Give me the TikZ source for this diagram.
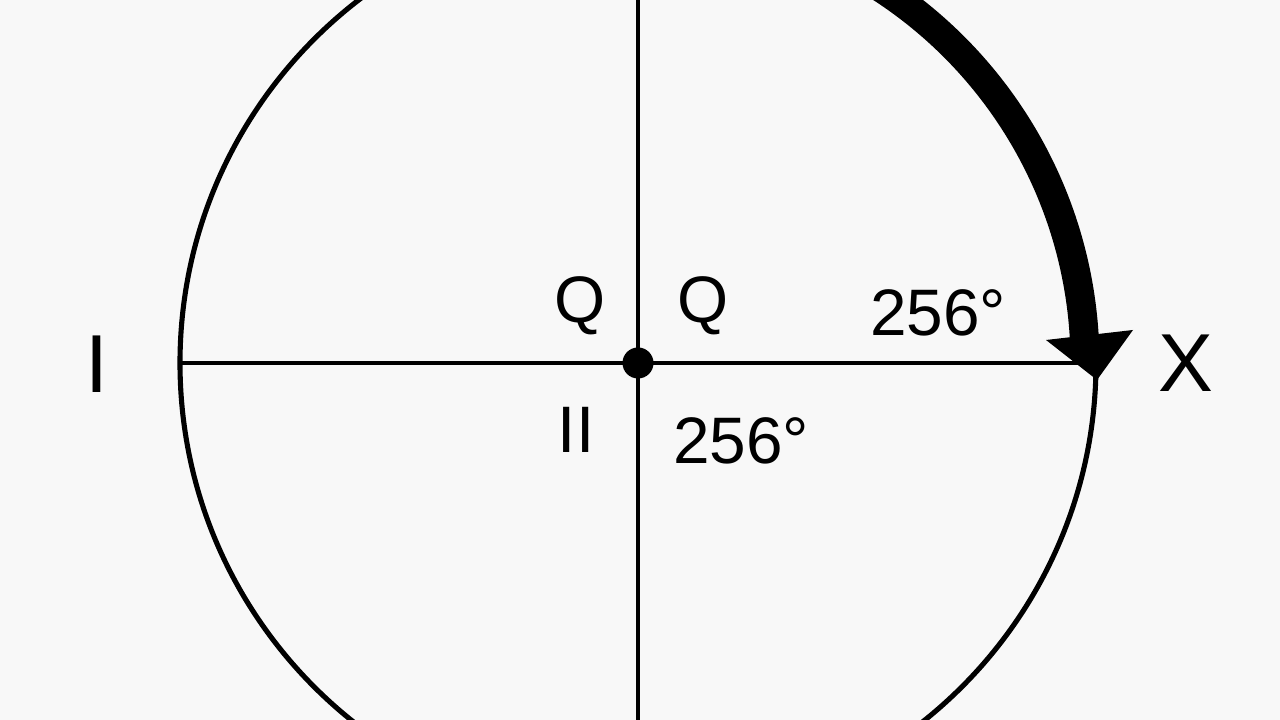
\documentclass[tikz,border=0pt]{standalone}
\usepackage{fontspec}
\setmainfont{Liberation Sans}
\definecolor{paper}{RGB}{248,248,248}
\begin{document}
\begin{tikzpicture}[>=stealth, lbl/.style={inner sep=0pt, font=\fontsize{18.7}{20}\selectfont}]
      \useasboundingbox (-6.38, -3.57) rectangle (6.42, 3.63);
      \fill[paper] (-6.38, -3.57) rectangle (6.42, 3.63);
      \clip (-6.38, -3.57) rectangle (6.42, 3.63);

      \coordinate (O) at (0, 0);
      \coordinate (W) at (180:4.58);
      \coordinate (E) at (0:4.58);
      \coordinate (N) at (0, 3.63);
      \coordinate (S) at (0, -3.57);

      \draw[line width=1.45pt] (O) circle (4.58);
      \draw[line width=1.15pt] (W) -- (E);
      \draw[line width=1.15pt] (N) -- (S);
      \fill (O) circle (0.155);

      % thick arrow along the rim
      \draw[line width=0.29cm] (72:4.47) arc (72:2:4.47);
      \fill (4.08, 0.23) -- (4.95, 0.33) -- (4.59, -0.17) -- cycle;

      \node[lbl] (q1) at (-0.58, 0.57) {Q};
      \node[lbl] (q2) at (0.65, 0.57) {Q};
      \node[lbl] (ii) at (-0.62, -0.67) {II};
      \node[lbl] (a1) at (1.03, -0.78) {256°};
      \node[lbl] (a2) at (3.00, 0.50) {256°};
      \node[inner sep=0pt, font=\fontsize{23.4}{26}\selectfont] (i) at (-5.41, -0.01) {I};
      \node[inner sep=0pt, font=\fontsize{23.4}{26}\selectfont] (x) at (5.48, 0.0) {X};
    \end{tikzpicture}
\end{document}
